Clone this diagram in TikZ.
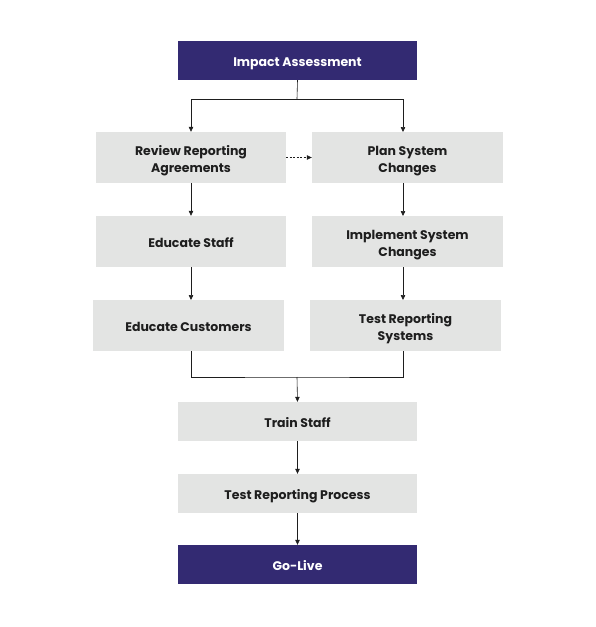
\documentclass[tikz,border=0pt]{standalone}
\usepackage{fontspec}
\setmainfont{Poppins}
\usetikzlibrary{arrows.meta}
\definecolor{navy}{HTML}{332A72}
\definecolor{boxgray}{HTML}{E3E4E3}
\definecolor{ink}{HTML}{1E1E1E}
\begin{document}
\begin{tikzpicture}[x=1pt,y=-1pt,
  base/.style={draw=none,inner sep=0pt,font=\fontsize{12.5}{17}\selectfont\bfseries,align=center},
  one/.style={text height=14pt,text depth=3pt},
  two/.style={text height=33pt,text depth=3pt},
  box/.style={base,fill=boxgray,text=ink},
  dark/.style={base,fill=navy,text=white},
  arr/.style={draw=ink,line width=0.6pt,-{Triangle[length=5pt,width=4.5pt]}},
  ln/.style={draw=ink,line width=0.6pt}]
\useasboundingbox (0,0) rectangle (595,627);
\fill[white] (0,0) rectangle (595,627);
\node[dark,one,minimum width=239pt,minimum height=39pt] (ia) at (297.5,60.5) {Impact Assessment};
\node[box,two,minimum width=190pt,minimum height=51pt] (rra) at (191,157.5) {Review Reporting\\Agreements};
\node[box,two,minimum width=191pt,minimum height=51pt] (psc) at (407.5,157.5) {Plan System\\Changes};
\node[box,one,minimum width=190pt,minimum height=51pt] (es) at (191,241.5) {Educate Staff};
\node[box,two,minimum width=191pt,minimum height=51pt] (isc) at (407.5,241.5) {Implement System\\Changes};
\node[box,one,minimum width=191pt,minimum height=51pt] (ec) at (188.5,325.5) {Educate Customers};
\node[box,two,minimum width=191pt,minimum height=51pt] (trs) at (405.5,325.5) {Test Reporting\\Systems};
\node[box,one,minimum width=239pt,minimum height=39pt] (ts) at (297.5,421.5) {Train Staff};
\node[box,one,minimum width=239pt,minimum height=39pt] (trp) at (297.5,493.5) {Test Reporting Process};
\node[dark,one,minimum width=239pt,minimum height=39pt] (gl) at (297.5,564.5) {Go-Live};
\coordinate (split) at (297,99);
\coordinate (join) at (297,377);
\coordinate (pscin) at (403,132);
\coordinate (pscout) at (403,183);
\coordinate (iscin) at (403,216);
\coordinate (iscout) at (403,267);
\coordinate (trsin) at (403,300);
\coordinate (trsout) at (403,351);
\coordinate (ecin) at (191,300);
\coordinate (ecout) at (191,351);
\draw[ln] (ia.south) -- (split);
\draw[arr] (split) -| (rra.north);
\draw[arr] (split) -| (pscin);
\draw[arr,dash pattern=on 2pt off 1.5pt] (rra.east) -- (psc.west);
\draw[arr] (rra.south) -- (es.north);
\draw[arr] (pscout) -- (iscin);
\draw[arr] (es.south) -- (ecin);
\draw[arr] (iscout) -- (trsin);
\draw[ln] (ecout) |- (join) -| (trsout);
\draw[arr] (join) -- (ts.north);
\draw[arr] (ts.south) -- (trp.north);
\draw[arr] (trp.south) -- (gl.north);
\end{tikzpicture}
\end{document}
